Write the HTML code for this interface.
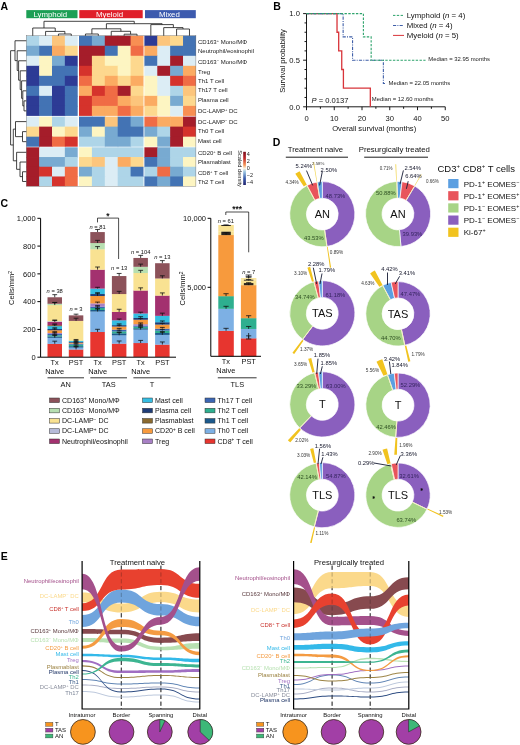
<!DOCTYPE html>
<html lang="en"><head><meta charset="utf-8"><title>Figure</title>
<style>
html,body{margin:0;padding:0;background:#fff;}
body{width:520px;height:745px;overflow:hidden;font-family:"Liberation Sans",sans-serif;}
svg{display:block;font-family:"Liberation Sans",sans-serif;}
</style></head><body>
<svg width="520" height="745" viewBox="0 0 520 745">
<rect width="520" height="745" fill="#fff"/>
<g id="panelA">
<text x="0.5" y="9.9" font-size="10.5" font-weight="bold" fill="#000">A</text>
<rect x="26.3" y="10.1" width="51.2" height="8.1" fill="#1d9f55"/>
<rect x="79.3" y="10.1" width="63.4" height="8.1" fill="#e01f2a"/>
<rect x="145" y="10.1" width="50.8" height="8.1" fill="#3c5aae"/>
<text x="50.3" y="16.8" font-size="7.85" fill="#fff" text-anchor="middle">Lymphoid</text>
<text x="109.5" y="16.8" font-size="7.85" fill="#fff" text-anchor="middle">Myeloid</text>
<text x="169.4" y="16.8" font-size="7.85" fill="#fff" text-anchor="middle">Mixed</text>
<rect x="26.3" y="35.75" width="13.45" height="10.62" fill="#aed5e8"/>
<rect x="39.15" y="35.75" width="13.45" height="10.62" fill="#dcedf5"/>
<rect x="52" y="35.75" width="13.45" height="10.62" fill="#fcc57c"/>
<rect x="64.85" y="35.75" width="12.85" height="10.62" fill="#dcedf5"/>
<rect x="79" y="35.75" width="13.5" height="10.62" fill="#4373b4"/>
<rect x="91.9" y="35.75" width="13.5" height="10.62" fill="#78aad1"/>
<rect x="104.8" y="35.75" width="13.5" height="10.62" fill="#a51d2a"/>
<rect x="117.7" y="35.75" width="13.5" height="10.62" fill="#a51d2a"/>
<rect x="130.6" y="35.75" width="12.9" height="10.62" fill="#f88f53"/>
<rect x="144.4" y="35.75" width="13.47" height="10.62" fill="#2d3b95"/>
<rect x="157.28" y="35.75" width="13.47" height="10.62" fill="#fcc57c"/>
<rect x="170.15" y="35.75" width="13.47" height="10.62" fill="#fdd88e"/>
<rect x="183.03" y="35.75" width="12.88" height="10.62" fill="#4373b4"/>
<rect x="26.3" y="45.77" width="13.45" height="10.62" fill="#78aad1"/>
<rect x="39.15" y="45.77" width="13.45" height="10.62" fill="#4373b4"/>
<rect x="52" y="45.77" width="13.45" height="10.62" fill="#fbab62"/>
<rect x="64.85" y="45.77" width="12.85" height="10.62" fill="#fdd88e"/>
<rect x="79" y="45.77" width="13.5" height="10.62" fill="#a51d2a"/>
<rect x="91.9" y="45.77" width="13.5" height="10.62" fill="#a51d2a"/>
<rect x="104.8" y="45.77" width="13.5" height="10.62" fill="#4373b4"/>
<rect x="117.7" y="45.77" width="13.5" height="10.62" fill="#fdf5c2"/>
<rect x="130.6" y="45.77" width="12.9" height="10.62" fill="#f06c45"/>
<rect x="144.4" y="45.77" width="13.47" height="10.62" fill="#fbab62"/>
<rect x="157.28" y="45.77" width="13.47" height="10.62" fill="#dcedf5"/>
<rect x="170.15" y="45.77" width="13.47" height="10.62" fill="#4373b4"/>
<rect x="183.03" y="45.77" width="12.88" height="10.62" fill="#4373b4"/>
<rect x="26.3" y="55.79" width="13.45" height="10.62" fill="#dcedf5"/>
<rect x="39.15" y="55.79" width="13.45" height="10.62" fill="#fdf5c2"/>
<rect x="52" y="55.79" width="13.45" height="10.62" fill="#78aad1"/>
<rect x="64.85" y="55.79" width="12.85" height="10.62" fill="#2d3b95"/>
<rect x="79" y="55.79" width="13.5" height="10.62" fill="#a51d2a"/>
<rect x="91.9" y="55.79" width="13.5" height="10.62" fill="#fdd88e"/>
<rect x="104.8" y="55.79" width="13.5" height="10.62" fill="#fdf5c2"/>
<rect x="117.7" y="55.79" width="13.5" height="10.62" fill="#fdf5c2"/>
<rect x="130.6" y="55.79" width="12.9" height="10.62" fill="#fdd88e"/>
<rect x="144.4" y="55.79" width="13.47" height="10.62" fill="#4373b4"/>
<rect x="157.28" y="55.79" width="13.47" height="10.62" fill="#dcedf5"/>
<rect x="170.15" y="55.79" width="13.47" height="10.62" fill="#a51d2a"/>
<rect x="183.03" y="55.79" width="12.88" height="10.62" fill="#dcedf5"/>
<rect x="26.3" y="65.81" width="13.45" height="10.62" fill="#2d3b95"/>
<rect x="39.15" y="65.81" width="13.45" height="10.62" fill="#fdf5c2"/>
<rect x="52" y="65.81" width="13.45" height="10.62" fill="#4373b4"/>
<rect x="64.85" y="65.81" width="12.85" height="10.62" fill="#4373b4"/>
<rect x="79" y="65.81" width="13.5" height="10.62" fill="#d5332c"/>
<rect x="91.9" y="65.81" width="13.5" height="10.62" fill="#fdd88e"/>
<rect x="104.8" y="65.81" width="13.5" height="10.62" fill="#fdd88e"/>
<rect x="117.7" y="65.81" width="13.5" height="10.62" fill="#fdf5c2"/>
<rect x="130.6" y="65.81" width="12.9" height="10.62" fill="#fdd88e"/>
<rect x="144.4" y="65.81" width="13.47" height="10.62" fill="#dcedf5"/>
<rect x="157.28" y="65.81" width="13.47" height="10.62" fill="#a51d2a"/>
<rect x="170.15" y="65.81" width="13.47" height="10.62" fill="#78aad1"/>
<rect x="183.03" y="65.81" width="12.88" height="10.62" fill="#fbab62"/>
<rect x="26.3" y="75.83" width="13.45" height="10.62" fill="#2d3b95"/>
<rect x="39.15" y="75.83" width="13.45" height="10.62" fill="#4373b4"/>
<rect x="52" y="75.83" width="13.45" height="10.62" fill="#4373b4"/>
<rect x="64.85" y="75.83" width="12.85" height="10.62" fill="#2d3b95"/>
<rect x="79" y="75.83" width="13.5" height="10.62" fill="#f06c45"/>
<rect x="91.9" y="75.83" width="13.5" height="10.62" fill="#fdd88e"/>
<rect x="104.8" y="75.83" width="13.5" height="10.62" fill="#fbab62"/>
<rect x="117.7" y="75.83" width="13.5" height="10.62" fill="#fdd88e"/>
<rect x="130.6" y="75.83" width="12.9" height="10.62" fill="#fbab62"/>
<rect x="144.4" y="75.83" width="13.47" height="10.62" fill="#fdf5c2"/>
<rect x="157.28" y="75.83" width="13.47" height="10.62" fill="#dcedf5"/>
<rect x="170.15" y="75.83" width="13.47" height="10.62" fill="#d5332c"/>
<rect x="183.03" y="75.83" width="12.88" height="10.62" fill="#f06c45"/>
<rect x="26.3" y="85.84" width="13.45" height="10.62" fill="#4373b4"/>
<rect x="39.15" y="85.84" width="13.45" height="10.62" fill="#dcedf5"/>
<rect x="52" y="85.84" width="13.45" height="10.62" fill="#2d3b95"/>
<rect x="64.85" y="85.84" width="12.85" height="10.62" fill="#4373b4"/>
<rect x="79" y="85.84" width="13.5" height="10.62" fill="#fbab62"/>
<rect x="91.9" y="85.84" width="13.5" height="10.62" fill="#d5332c"/>
<rect x="104.8" y="85.84" width="13.5" height="10.62" fill="#f06c45"/>
<rect x="117.7" y="85.84" width="13.5" height="10.62" fill="#a51d2a"/>
<rect x="130.6" y="85.84" width="12.9" height="10.62" fill="#fdd88e"/>
<rect x="144.4" y="85.84" width="13.47" height="10.62" fill="#fdf5c2"/>
<rect x="157.28" y="85.84" width="13.47" height="10.62" fill="#dcedf5"/>
<rect x="170.15" y="85.84" width="13.47" height="10.62" fill="#aed5e8"/>
<rect x="183.03" y="85.84" width="12.88" height="10.62" fill="#fcc57c"/>
<rect x="26.3" y="95.86" width="13.45" height="10.62" fill="#2d3b95"/>
<rect x="39.15" y="95.86" width="13.45" height="10.62" fill="#4373b4"/>
<rect x="52" y="95.86" width="13.45" height="10.62" fill="#2d3b95"/>
<rect x="64.85" y="95.86" width="12.85" height="10.62" fill="#4373b4"/>
<rect x="79" y="95.86" width="13.5" height="10.62" fill="#d5332c"/>
<rect x="91.9" y="95.86" width="13.5" height="10.62" fill="#f06c45"/>
<rect x="104.8" y="95.86" width="13.5" height="10.62" fill="#f06c45"/>
<rect x="117.7" y="95.86" width="13.5" height="10.62" fill="#fbab62"/>
<rect x="130.6" y="95.86" width="12.9" height="10.62" fill="#fcc57c"/>
<rect x="144.4" y="95.86" width="13.47" height="10.62" fill="#fbab62"/>
<rect x="157.28" y="95.86" width="13.47" height="10.62" fill="#fdf5c2"/>
<rect x="170.15" y="95.86" width="13.47" height="10.62" fill="#78aad1"/>
<rect x="183.03" y="95.86" width="12.88" height="10.62" fill="#fdd88e"/>
<rect x="26.3" y="105.88" width="13.45" height="10.02" fill="#2d3b95"/>
<rect x="39.15" y="105.88" width="13.45" height="10.02" fill="#4373b4"/>
<rect x="52" y="105.88" width="13.45" height="10.02" fill="#2d3b95"/>
<rect x="64.85" y="105.88" width="12.85" height="10.02" fill="#4373b4"/>
<rect x="79" y="105.88" width="13.5" height="10.02" fill="#d5332c"/>
<rect x="91.9" y="105.88" width="13.5" height="10.02" fill="#fbab62"/>
<rect x="104.8" y="105.88" width="13.5" height="10.02" fill="#fbab62"/>
<rect x="117.7" y="105.88" width="13.5" height="10.02" fill="#f06c45"/>
<rect x="130.6" y="105.88" width="12.9" height="10.02" fill="#fbab62"/>
<rect x="144.4" y="105.88" width="13.47" height="10.02" fill="#fdd88e"/>
<rect x="157.28" y="105.88" width="13.47" height="10.02" fill="#fdf5c2"/>
<rect x="170.15" y="105.88" width="13.47" height="10.02" fill="#dcedf5"/>
<rect x="183.03" y="105.88" width="12.88" height="10.02" fill="#f88f53"/>
<rect x="26.3" y="116.6" width="13.45" height="10.63" fill="#dcedf5"/>
<rect x="39.15" y="116.6" width="13.45" height="10.63" fill="#fdf5c2"/>
<rect x="52" y="116.6" width="13.45" height="10.63" fill="#aed5e8"/>
<rect x="64.85" y="116.6" width="12.85" height="10.63" fill="#dcedf5"/>
<rect x="79" y="116.6" width="13.5" height="10.63" fill="#4373b4"/>
<rect x="91.9" y="116.6" width="13.5" height="10.63" fill="#4373b4"/>
<rect x="104.8" y="116.6" width="13.5" height="10.63" fill="#fcc57c"/>
<rect x="117.7" y="116.6" width="13.5" height="10.63" fill="#4373b4"/>
<rect x="130.6" y="116.6" width="12.9" height="10.63" fill="#78aad1"/>
<rect x="144.4" y="116.6" width="13.47" height="10.63" fill="#f06c45"/>
<rect x="157.28" y="116.6" width="13.47" height="10.63" fill="#fbab62"/>
<rect x="170.15" y="116.6" width="13.47" height="10.63" fill="#fbab62"/>
<rect x="183.03" y="116.6" width="12.88" height="10.63" fill="#a51d2a"/>
<rect x="26.3" y="126.63" width="13.45" height="10.63" fill="#fdd88e"/>
<rect x="39.15" y="126.63" width="13.45" height="10.63" fill="#a51d2a"/>
<rect x="52" y="126.63" width="13.45" height="10.63" fill="#fdf5c2"/>
<rect x="64.85" y="126.63" width="12.85" height="10.63" fill="#fdd88e"/>
<rect x="79" y="126.63" width="13.5" height="10.63" fill="#78aad1"/>
<rect x="91.9" y="126.63" width="13.5" height="10.63" fill="#fdf5c2"/>
<rect x="104.8" y="126.63" width="13.5" height="10.63" fill="#78aad1"/>
<rect x="117.7" y="126.63" width="13.5" height="10.63" fill="#4373b4"/>
<rect x="130.6" y="126.63" width="12.9" height="10.63" fill="#4373b4"/>
<rect x="144.4" y="126.63" width="13.47" height="10.63" fill="#78aad1"/>
<rect x="157.28" y="126.63" width="13.47" height="10.63" fill="#aed5e8"/>
<rect x="170.15" y="126.63" width="13.47" height="10.63" fill="#a51d2a"/>
<rect x="183.03" y="126.63" width="12.88" height="10.63" fill="#d5332c"/>
<rect x="26.3" y="136.67" width="13.45" height="10.03" fill="#4373b4"/>
<rect x="39.15" y="136.67" width="13.45" height="10.03" fill="#a51d2a"/>
<rect x="52" y="136.67" width="13.45" height="10.03" fill="#f06c45"/>
<rect x="64.85" y="136.67" width="12.85" height="10.03" fill="#d5332c"/>
<rect x="79" y="136.67" width="13.5" height="10.03" fill="#aed5e8"/>
<rect x="91.9" y="136.67" width="13.5" height="10.03" fill="#aed5e8"/>
<rect x="104.8" y="136.67" width="13.5" height="10.03" fill="#78aad1"/>
<rect x="117.7" y="136.67" width="13.5" height="10.03" fill="#78aad1"/>
<rect x="130.6" y="136.67" width="12.9" height="10.03" fill="#aed5e8"/>
<rect x="144.4" y="136.67" width="13.47" height="10.03" fill="#fdf5c2"/>
<rect x="157.28" y="136.67" width="13.47" height="10.03" fill="#78aad1"/>
<rect x="170.15" y="136.67" width="13.47" height="10.03" fill="#a51d2a"/>
<rect x="183.03" y="136.67" width="12.88" height="10.03" fill="#fdf5c2"/>
<rect x="26.3" y="147.3" width="13.45" height="10.32" fill="#a51d2a"/>
<rect x="39.15" y="147.3" width="13.45" height="10.32" fill="#dcedf5"/>
<rect x="52" y="147.3" width="13.45" height="10.32" fill="#dcedf5"/>
<rect x="64.85" y="147.3" width="12.85" height="10.32" fill="#78aad1"/>
<rect x="79" y="147.3" width="13.5" height="10.32" fill="#fdf5c2"/>
<rect x="91.9" y="147.3" width="13.5" height="10.32" fill="#aed5e8"/>
<rect x="104.8" y="147.3" width="13.5" height="10.32" fill="#aed5e8"/>
<rect x="117.7" y="147.3" width="13.5" height="10.32" fill="#aed5e8"/>
<rect x="130.6" y="147.3" width="12.9" height="10.32" fill="#aed5e8"/>
<rect x="144.4" y="147.3" width="13.47" height="10.32" fill="#a51d2a"/>
<rect x="157.28" y="147.3" width="13.47" height="10.32" fill="#78aad1"/>
<rect x="170.15" y="147.3" width="13.47" height="10.32" fill="#aed5e8"/>
<rect x="183.03" y="147.3" width="12.88" height="10.32" fill="#aed5e8"/>
<rect x="26.3" y="157.03" width="13.45" height="10.32" fill="#a51d2a"/>
<rect x="39.15" y="157.03" width="13.45" height="10.32" fill="#78aad1"/>
<rect x="52" y="157.03" width="13.45" height="10.32" fill="#78aad1"/>
<rect x="64.85" y="157.03" width="12.85" height="10.32" fill="#aed5e8"/>
<rect x="79" y="157.03" width="13.5" height="10.32" fill="#fdd88e"/>
<rect x="91.9" y="157.03" width="13.5" height="10.32" fill="#fcc57c"/>
<rect x="104.8" y="157.03" width="13.5" height="10.32" fill="#dcedf5"/>
<rect x="117.7" y="157.03" width="13.5" height="10.32" fill="#fbab62"/>
<rect x="130.6" y="157.03" width="12.9" height="10.32" fill="#fdd88e"/>
<rect x="144.4" y="157.03" width="13.47" height="10.32" fill="#4373b4"/>
<rect x="157.28" y="157.03" width="13.47" height="10.32" fill="#78aad1"/>
<rect x="170.15" y="157.03" width="13.47" height="10.32" fill="#aed5e8"/>
<rect x="183.03" y="157.03" width="12.88" height="10.32" fill="#fdf5c2"/>
<rect x="26.3" y="166.75" width="13.45" height="10.32" fill="#a51d2a"/>
<rect x="39.15" y="166.75" width="13.45" height="10.32" fill="#d5332c"/>
<rect x="52" y="166.75" width="13.45" height="10.32" fill="#dcedf5"/>
<rect x="64.85" y="166.75" width="12.85" height="10.32" fill="#f06c45"/>
<rect x="79" y="166.75" width="13.5" height="10.32" fill="#78aad1"/>
<rect x="91.9" y="166.75" width="13.5" height="10.32" fill="#aed5e8"/>
<rect x="104.8" y="166.75" width="13.5" height="10.32" fill="#dcedf5"/>
<rect x="117.7" y="166.75" width="13.5" height="10.32" fill="#aed5e8"/>
<rect x="130.6" y="166.75" width="12.9" height="10.32" fill="#4373b4"/>
<rect x="144.4" y="166.75" width="13.47" height="10.32" fill="#aed5e8"/>
<rect x="157.28" y="166.75" width="13.47" height="10.32" fill="#f06c45"/>
<rect x="170.15" y="166.75" width="13.47" height="10.32" fill="#78aad1"/>
<rect x="183.03" y="166.75" width="12.88" height="10.32" fill="#aed5e8"/>
<rect x="26.3" y="176.47" width="13.45" height="9.72" fill="#a51d2a"/>
<rect x="39.15" y="176.47" width="13.45" height="9.72" fill="#aed5e8"/>
<rect x="52" y="176.47" width="13.45" height="9.72" fill="#d5332c"/>
<rect x="64.85" y="176.47" width="12.85" height="9.72" fill="#f06c45"/>
<rect x="79" y="176.47" width="13.5" height="9.72" fill="#fdf5c2"/>
<rect x="91.9" y="176.47" width="13.5" height="9.72" fill="#aed5e8"/>
<rect x="104.8" y="176.47" width="13.5" height="9.72" fill="#dcedf5"/>
<rect x="117.7" y="176.47" width="13.5" height="9.72" fill="#aed5e8"/>
<rect x="130.6" y="176.47" width="12.9" height="9.72" fill="#aed5e8"/>
<rect x="144.4" y="176.47" width="13.47" height="9.72" fill="#4373b4"/>
<rect x="157.28" y="176.47" width="13.47" height="9.72" fill="#78aad1"/>
<rect x="170.15" y="176.47" width="13.47" height="9.72" fill="#4373b4"/>
<rect x="183.03" y="176.47" width="12.88" height="9.72" fill="#fdf5c2"/>
<rect x="26.3" y="35.75" width="169.6" height="150.45" fill="none" stroke="#555" stroke-width="0.35"/>
<text x="198" y="43.65" font-size="6" fill="#222">CD163<tspan dy="-2" font-size="4">+</tspan><tspan dy="2"> Mono/MΦ</tspan></text>
<text x="198" y="52.87" font-size="6" fill="#222">Neutrophil/eosinophil</text>
<text x="198" y="63.99" font-size="6" fill="#222">CD163<tspan dy="-2" font-size="4">−</tspan><tspan dy="2"> Mono/MΦ</tspan></text>
<text x="198" y="73.81" font-size="6" fill="#222">Treg</text>
<text x="198" y="82.92" font-size="6" fill="#222">Th1 T cell</text>
<text x="198" y="92.24" font-size="6" fill="#222">Th17 T cell</text>
<text x="198" y="101.86" font-size="6" fill="#222">Plasma cell</text>
<text x="198" y="113.28" font-size="6" fill="#222">DC-LAMP<tspan dy="-2" font-size="4">+</tspan><tspan dy="2"> DC</tspan></text>
<text x="198" y="124.1" font-size="6" fill="#222">DC-LAMP<tspan dy="-2" font-size="4">−</tspan><tspan dy="2"> DC</tspan></text>
<text x="198" y="133.43" font-size="6" fill="#222">Th0 T cell</text>
<text x="198" y="143.07" font-size="6" fill="#222">Mast cell</text>
<text x="198" y="155.1" font-size="6" fill="#222">CD20<tspan dy="-2" font-size="4">+</tspan><tspan dy="2"> B cell</tspan></text>
<text x="198" y="163.72" font-size="6" fill="#222">Plasmablast</text>
<text x="198" y="175.35" font-size="6" fill="#222">CD8<tspan dy="-2" font-size="4">+</tspan><tspan dy="2"> T cell</tspan></text>
<text x="198" y="183.97" font-size="6" fill="#222">Th2 T cell</text>
<path d="M58.44 35.75L58.44 34M58.44 34L71.29 34M71.29 34L71.29 35.75M45.59 35.75L45.59 31.4M45.59 31.4L64.87 31.4M64.87 31.4L64.87 34M32.74 35.75L32.74 28M32.74 28L55.23 28M55.23 28L55.23 31.4M124.14 35.75L124.14 34.2M124.14 34.2L137.04 34.2M137.04 34.2L137.04 35.75M111.24 35.75L111.24 31.3M111.24 31.3L130.59 31.3M130.59 31.3L130.59 34.2M85.44 35.75L85.44 34M85.44 34L98.34 34M98.34 34L98.34 35.75M91.89 34L91.89 28.8M91.89 28.8L120.91 28.8M120.91 28.8L120.91 31.3M176.59 35.75L176.59 29M176.59 29L189.47 29M189.47 29L189.47 35.75M163.72 35.75L163.72 27.6M163.72 27.6L183.03 27.6M183.03 27.6L183.03 29M150.84 35.75L150.84 24.6M150.84 24.6L173.37 24.6M173.37 24.6L173.37 27.6M106.4 28.8L106.4 23.7M106.4 23.7L162.11 23.7M162.11 23.7L162.11 24.6M43.98 28L43.98 21.3M43.98 21.3L134.25 21.3M134.25 21.3L134.25 23.7M26.3 100.86L24 100.86M24 100.86L24 110.88M24 110.88L26.3 110.88M26.3 90.84L22.8 90.84M22.8 90.84L22.8 105.87M22.8 105.87L24 105.87M26.3 80.83L21.6 80.83M21.6 80.83L21.6 98.36M21.6 98.36L22.8 98.36M26.3 70.81L20.2 70.81M20.2 70.81L20.2 89.59M20.2 89.59L21.6 89.59M26.3 60.79L18.6 60.79M18.6 60.79L18.6 80.2M18.6 80.2L20.2 80.2M26.3 50.77L17.2 50.77M17.2 50.77L17.2 70.49M17.2 70.49L18.6 70.49M26.3 40.75L15 40.75M15 40.75L15 60.63M15 60.63L17.2 60.63M26.3 131.63L22.5 131.63M22.5 131.63L22.5 141.67M22.5 141.67L26.3 141.67M26.3 121.6L15.5 121.6M15.5 121.6L15.5 136.65M15.5 136.65L22.5 136.65M26.3 171.75L22.5 171.75M22.5 171.75L22.5 181.47M22.5 181.47L26.3 181.47M26.3 162.03L20 162.03M20 162.03L20 176.61M20 176.61L22.5 176.61M26.3 152.3L16.6 152.3M16.6 152.3L16.6 169.32M16.6 169.32L20 169.32M15.5 129.12L13.3 129.12M13.3 129.12L13.3 160.81M13.3 160.81L16.6 160.81M15 50.69L10.6 50.69M10.6 50.69L10.6 144.97M10.6 144.97L13.3 144.97" fill="none" stroke="#222" stroke-width="0.85"/>
<defs><linearGradient id="cb" x1="0" y1="0" x2="0" y2="1"><stop offset="0" stop-color="#7a1020"/><stop offset="0.2" stop-color="#c02a2c"/><stop offset="0.4" stop-color="#f59a5a"/><stop offset="0.5" stop-color="#fdf5e0"/><stop offset="0.6" stop-color="#9cc6e2"/><stop offset="0.8" stop-color="#3a5cab"/><stop offset="1" stop-color="#23246f"/></linearGradient></defs>
<rect x="243.2" y="151.8" width="2.7" height="33.2" fill="url(#cb)"/>
<text x="246.8" y="156" font-size="5.5" fill="#222">4</text>
<text x="246.8" y="163.3" font-size="5.5" fill="#222">2</text>
<text x="246.8" y="169.6" font-size="5.5" fill="#222">0</text>
<text x="246.8" y="177.3" font-size="5.5" fill="#222">−2</text>
<text x="246.8" y="183.7" font-size="5.5" fill="#222">−4</text>
<text transform="translate(237.5,150.2) rotate(90)" font-size="5.65" fill="#222">Scaled density</text>
</g>
<g id="panelB">
<text x="273.3" y="9.7" font-size="10.5" font-weight="bold" fill="#000">B</text>
<path d="M306.5 13.6L306.5 106.8M306.5 106.8L445.25 106.8M306.5 106.8L306.5 110.2M334.25 106.8L334.25 110.2M362 106.8L362 110.2M389.75 106.8L389.75 110.2M417.5 106.8L417.5 110.2M445.25 106.8L445.25 110.2M320.38 106.8L320.38 108.8M348.12 106.8L348.12 108.8M375.88 106.8L375.88 108.8M403.62 106.8L403.62 108.8M431.38 106.8L431.38 108.8M303.1 106.8L306.5 106.8M304.5 97.48L306.5 97.48M304.5 88.16L306.5 88.16M304.5 78.84L306.5 78.84M304.5 69.52L306.5 69.52M303.1 60.2L306.5 60.2M304.5 50.88L306.5 50.88M304.5 41.56L306.5 41.56M304.5 32.24L306.5 32.24M304.5 22.92L306.5 22.92M303.1 13.6L306.5 13.6" stroke="#000" stroke-width="0.9" fill="none"/>
<text x="306.5" y="120.6" font-size="7.6" text-anchor="middle" fill="#111">0</text>
<text x="334.25" y="120.6" font-size="7.6" text-anchor="middle" fill="#111">10</text>
<text x="362" y="120.6" font-size="7.6" text-anchor="middle" fill="#111">20</text>
<text x="389.75" y="120.6" font-size="7.6" text-anchor="middle" fill="#111">30</text>
<text x="417.5" y="120.6" font-size="7.6" text-anchor="middle" fill="#111">40</text>
<text x="445.25" y="120.6" font-size="7.6" text-anchor="middle" fill="#111">50</text>
<text x="299.9" y="16.3" font-size="7.6" text-anchor="end" fill="#111">1.0</text>
<text x="299.9" y="62.9" font-size="7.6" text-anchor="end" fill="#111">0.5</text>
<text x="299.9" y="109.5" font-size="7.6" text-anchor="end" fill="#111">0.0</text>
<text transform="translate(284.7,61) rotate(-90)" font-size="7.6" text-anchor="middle" fill="#111">Survival probability</text>
<text x="374.2" y="131.4" font-size="7.6" text-anchor="middle" fill="#111">Overall survival (months)</text>
<text x="311.5" y="103.4" font-size="7.6" fill="#111"><tspan font-style="italic">P</tspan> = 0.0137</text>
<path d="M306.5 13.6L337.02 13.6L337.02 32.24L338.69 32.24L338.69 50.88L341.74 50.88L341.74 69.52L343.41 69.52L343.41 88.16L370.32 88.16L370.32 106.8" stroke="#d8343a" stroke-width="1.3" fill="none"/>
<path d="M306.5 13.6L343.13 13.6L343.13 36.9L352.56 36.9L352.56 60.2L383.37 60.2L383.37 83.5L386.14 83.5L386.14 83.5" stroke="#3f5fa8" stroke-width="1.1" fill="none" stroke-dasharray="3.2 1.2 1 1.2"/>
<path d="M306.5 13.6L363.39 13.6L363.39 36.9L371.16 36.9L371.16 60.2L425.55 60.2L425.55 60.2" stroke="#2ca36b" stroke-width="1.1" fill="none" stroke-dasharray="2.4 1.4"/>
<path d="M393 15.4L404 15.4" stroke="#2ca36b" stroke-width="1" stroke-dasharray="2.4 1.4"/>
<text x="406.8" y="18.1" font-size="7.8" fill="#111">Lymphoid (<tspan font-style="italic">n</tspan> = 4)</text>
<path d="M393 25.5L404 25.5" stroke="#3f5fa8" stroke-width="1" stroke-dasharray="3.2 1.2 1 1.2"/>
<text x="406.8" y="28.2" font-size="7.8" fill="#111">Mixed (<tspan font-style="italic">n</tspan> = 4)</text>
<path d="M393 35.4L404 35.4" stroke="#d8343a" stroke-width="1" />
<text x="406.8" y="38.1" font-size="7.8" fill="#111">Myeloid (<tspan font-style="italic">n</tspan> = 5)</text>
<text x="428.3" y="61" font-size="5.9" fill="#222">Median = 32.95 months</text>
<text x="388.5" y="85.4" font-size="5.9" fill="#222">Median = 22.05 months</text>
<text x="371.8" y="100.8" font-size="5.9" fill="#222">Median = 12.60 months</text>
</g>
<g id="panelC">
<text x="0.5" y="207.1" font-size="10.5" font-weight="bold" fill="#000">C</text>
<rect x="47.5" y="343.78" width="14.5" height="13.14" fill="#e7352f"/>
<rect x="47.5" y="337.75" width="14.5" height="6.13" fill="#7db0e4"/>
<rect x="47.5" y="336.39" width="14.5" height="1.46" fill="#1c5a8d"/>
<rect x="47.5" y="335.22" width="14.5" height="1.27" fill="#2eaf8f"/>
<rect x="47.5" y="333.86" width="14.5" height="1.46" fill="#3b66b3"/>
<rect x="47.5" y="332.88" width="14.5" height="1.07" fill="#a880c5"/>
<rect x="47.5" y="330.16" width="14.5" height="2.82" fill="#f79a3d"/>
<rect x="47.5" y="328.99" width="14.5" height="1.27" fill="#1f3d78"/>
<rect x="47.5" y="326.07" width="14.5" height="3.02" fill="#35bde2"/>
<rect x="47.5" y="325.1" width="14.5" height="1.07" fill="#8a6a2f"/>
<rect x="47.5" y="321.79" width="14.5" height="3.41" fill="#a3316f"/>
<rect x="47.5" y="321.21" width="14.5" height="0.68" fill="#b6bbd9"/>
<rect x="47.5" y="305.05" width="14.5" height="16.25" fill="#f9e292"/>
<rect x="47.5" y="303.69" width="14.5" height="1.46" fill="#b7dfb1"/>
<rect x="47.5" y="297.27" width="14.5" height="6.52" fill="#8c525a"/>
<rect x="68.8" y="349.43" width="14.5" height="7.5" fill="#e7352f"/>
<rect x="68.8" y="347.48" width="14.5" height="2.05" fill="#7db0e4"/>
<rect x="68.8" y="346.12" width="14.5" height="1.46" fill="#1c5a8d"/>
<rect x="68.8" y="344.56" width="14.5" height="1.66" fill="#2eaf8f"/>
<rect x="68.8" y="343.59" width="14.5" height="1.07" fill="#3b66b3"/>
<rect x="68.8" y="342.62" width="14.5" height="1.07" fill="#f79a3d"/>
<rect x="68.8" y="341.84" width="14.5" height="0.88" fill="#1f3d78"/>
<rect x="68.8" y="340.67" width="14.5" height="1.27" fill="#35bde2"/>
<rect x="68.8" y="320.82" width="14.5" height="19.95" fill="#f9e292"/>
<rect x="68.8" y="315.37" width="14.5" height="5.55" fill="#8c525a"/>
<rect x="90.3" y="331.91" width="14.5" height="25.01" fill="#e7352f"/>
<rect x="90.3" y="311.48" width="14.5" height="20.54" fill="#7db0e4"/>
<rect x="90.3" y="309.92" width="14.5" height="1.66" fill="#1c5a8d"/>
<rect x="90.3" y="307.97" width="14.5" height="2.05" fill="#2eaf8f"/>
<rect x="90.3" y="306.61" width="14.5" height="1.46" fill="#3b66b3"/>
<rect x="90.3" y="303.3" width="14.5" height="3.41" fill="#a880c5"/>
<rect x="90.3" y="295.91" width="14.5" height="7.5" fill="#f79a3d"/>
<rect x="90.3" y="293.96" width="14.5" height="2.05" fill="#1f3d78"/>
<rect x="90.3" y="288.51" width="14.5" height="5.55" fill="#35bde2"/>
<rect x="90.3" y="269.63" width="14.5" height="18.98" fill="#a3316f"/>
<rect x="90.3" y="249.19" width="14.5" height="20.54" fill="#f9e292"/>
<rect x="90.3" y="242.97" width="14.5" height="6.33" fill="#b7dfb1"/>
<rect x="90.3" y="232.07" width="14.5" height="11" fill="#8c525a"/>
<rect x="111.9" y="343.59" width="14.5" height="13.33" fill="#e7352f"/>
<rect x="111.9" y="335.22" width="14.5" height="8.47" fill="#7db0e4"/>
<rect x="111.9" y="333.27" width="14.5" height="2.05" fill="#1c5a8d"/>
<rect x="111.9" y="331.33" width="14.5" height="2.05" fill="#2eaf8f"/>
<rect x="111.9" y="329.58" width="14.5" height="1.85" fill="#3b66b3"/>
<rect x="111.9" y="326.46" width="14.5" height="3.21" fill="#f79a3d"/>
<rect x="111.9" y="325.1" width="14.5" height="1.46" fill="#1f3d78"/>
<rect x="111.9" y="320.23" width="14.5" height="4.97" fill="#35bde2"/>
<rect x="111.9" y="311.86" width="14.5" height="8.47" fill="#a3316f"/>
<rect x="111.9" y="293.96" width="14.5" height="18.01" fill="#f9e292"/>
<rect x="111.9" y="276.05" width="14.5" height="18.01" fill="#8c525a"/>
<rect x="133.4" y="343.01" width="14.5" height="13.92" fill="#e7352f"/>
<rect x="133.4" y="329.58" width="14.5" height="13.53" fill="#7db0e4"/>
<rect x="133.4" y="328.21" width="14.5" height="1.46" fill="#1c5a8d"/>
<rect x="133.4" y="326.66" width="14.5" height="1.66" fill="#2eaf8f"/>
<rect x="133.4" y="325.49" width="14.5" height="1.27" fill="#3b66b3"/>
<rect x="133.4" y="324.13" width="14.5" height="1.46" fill="#a880c5"/>
<rect x="133.4" y="319.65" width="14.5" height="4.58" fill="#f79a3d"/>
<rect x="133.4" y="317.9" width="14.5" height="1.85" fill="#1f3d78"/>
<rect x="133.4" y="313.42" width="14.5" height="4.58" fill="#35bde2"/>
<rect x="133.4" y="290.46" width="14.5" height="23.07" fill="#a3316f"/>
<rect x="133.4" y="272.94" width="14.5" height="17.62" fill="#f9e292"/>
<rect x="133.4" y="266.71" width="14.5" height="6.33" fill="#b7dfb1"/>
<rect x="133.4" y="257.95" width="14.5" height="8.86" fill="#8c525a"/>
<rect x="155.1" y="344.56" width="14.5" height="12.36" fill="#e7352f"/>
<rect x="155.1" y="334.83" width="14.5" height="9.83" fill="#7db0e4"/>
<rect x="155.1" y="332.88" width="14.5" height="2.05" fill="#1c5a8d"/>
<rect x="155.1" y="330.55" width="14.5" height="2.44" fill="#2eaf8f"/>
<rect x="155.1" y="328.6" width="14.5" height="2.05" fill="#3b66b3"/>
<rect x="155.1" y="324.52" width="14.5" height="4.19" fill="#f79a3d"/>
<rect x="155.1" y="322.18" width="14.5" height="2.44" fill="#1f3d78"/>
<rect x="155.1" y="315.76" width="14.5" height="6.52" fill="#35bde2"/>
<rect x="155.1" y="295.52" width="14.5" height="20.34" fill="#a3316f"/>
<rect x="155.1" y="278.39" width="14.5" height="17.23" fill="#f9e292"/>
<rect x="155.1" y="263.21" width="14.5" height="15.28" fill="#8c525a"/>
<path d="M54.75 343.78L54.75 341.18M52.35 341.18L57.15 341.18M54.75 337.75L54.75 335.15M52.35 335.15L57.15 335.15M54.75 336.39L54.75 335.19M52.35 335.19L57.15 335.19M54.75 335.22L54.75 334.02M52.35 334.02L57.15 334.02M54.75 333.86L54.75 332.66M52.35 332.66L57.15 332.66M54.75 332.88L54.75 331.68M52.35 331.68L57.15 331.68M54.75 330.16L54.75 328.96M52.35 328.96L57.15 328.96M54.75 328.99L54.75 327.79M52.35 327.79L57.15 327.79M54.75 326.07L54.75 324.87M52.35 324.87L57.15 324.87M54.75 325.1L54.75 323.9M52.35 323.9L57.15 323.9M54.75 321.79L54.75 320.59M52.35 320.59L57.15 320.59M54.75 321.21L54.75 320.01M52.35 320.01L57.15 320.01M54.75 305.05L54.75 302.45M52.35 302.45L57.15 302.45M54.75 303.69L54.75 302.49M52.35 302.49L57.15 302.49M54.75 297.27L54.75 294.67M52.35 294.67L57.15 294.67M76.05 349.43L76.05 346.83M73.65 346.83L78.45 346.83M76.05 347.48L76.05 346.28M73.65 346.28L78.45 346.28M76.05 346.12L76.05 344.92M73.65 344.92L78.45 344.92M76.05 344.56L76.05 343.36M73.65 343.36L78.45 343.36M76.05 343.59L76.05 342.39M73.65 342.39L78.45 342.39M76.05 342.62L76.05 341.42M73.65 341.42L78.45 341.42M76.05 341.84L76.05 340.64M73.65 340.64L78.45 340.64M76.05 340.67L76.05 339.47M73.65 339.47L78.45 339.47M76.05 320.82L76.05 318.22M73.65 318.22L78.45 318.22M76.05 315.37L76.05 314.17M73.65 314.17L78.45 314.17M97.55 331.91L97.55 329.31M95.15 329.31L99.95 329.31M97.55 311.48L97.55 308.88M95.15 308.88L99.95 308.88M97.55 309.92L97.55 308.72M95.15 308.72L99.95 308.72M97.55 307.97L97.55 306.77M95.15 306.77L99.95 306.77M97.55 306.61L97.55 305.41M95.15 305.41L99.95 305.41M97.55 303.3L97.55 302.1M95.15 302.1L99.95 302.1M97.55 295.91L97.55 293.31M95.15 293.31L99.95 293.31M97.55 293.96L97.55 292.76M95.15 292.76L99.95 292.76M97.55 288.51L97.55 287.31M95.15 287.31L99.95 287.31M97.55 269.63L97.55 267.03M95.15 267.03L99.95 267.03M97.55 249.19L97.55 246.59M95.15 246.59L99.95 246.59M97.55 242.97L97.55 240.37M95.15 240.37L99.95 240.37M97.55 232.07L97.55 229.47M95.15 229.47L99.95 229.47M119.15 343.59L119.15 340.99M116.75 340.99L121.55 340.99M119.15 335.22L119.15 332.62M116.75 332.62L121.55 332.62M119.15 333.27L119.15 332.07M116.75 332.07L121.55 332.07M119.15 331.33L119.15 330.13M116.75 330.13L121.55 330.13M119.15 329.58L119.15 328.38M116.75 328.38L121.55 328.38M119.15 326.46L119.15 325.26M116.75 325.26L121.55 325.26M119.15 325.1L119.15 323.9M116.75 323.9L121.55 323.9M119.15 320.23L119.15 319.03M116.75 319.03L121.55 319.03M119.15 311.86L119.15 309.26M116.75 309.26L121.55 309.26M119.15 293.96L119.15 291.36M116.75 291.36L121.55 291.36M119.15 276.05L119.15 273.45M116.75 273.45L121.55 273.45M140.65 343.01L140.65 340.41M138.25 340.41L143.05 340.41M140.65 329.58L140.65 326.98M138.25 326.98L143.05 326.98M140.65 328.21L140.65 327.01M138.25 327.01L143.05 327.01M140.65 326.66L140.65 325.46M138.25 325.46L143.05 325.46M140.65 325.49L140.65 324.29M138.25 324.29L143.05 324.29M140.65 324.13L140.65 322.93M138.25 322.93L143.05 322.93M140.65 319.65L140.65 318.45M138.25 318.45L143.05 318.45M140.65 317.9L140.65 316.7M138.25 316.7L143.05 316.7M140.65 313.42L140.65 312.22M138.25 312.22L143.05 312.22M140.65 290.46L140.65 287.86M138.25 287.86L143.05 287.86M140.65 272.94L140.65 270.34M138.25 270.34L143.05 270.34M140.65 266.71L140.65 264.11M138.25 264.11L143.05 264.11M140.65 257.95L140.65 255.35M138.25 255.35L143.05 255.35M162.35 344.56L162.35 341.96M159.95 341.96L164.75 341.96M162.35 334.83L162.35 332.23M159.95 332.23L164.75 332.23M162.35 332.88L162.35 331.68M159.95 331.68L164.75 331.68M162.35 330.55L162.35 329.35M159.95 329.35L164.75 329.35M162.35 328.6L162.35 327.4M159.95 327.4L164.75 327.4M162.35 324.52L162.35 323.32M159.95 323.32L164.75 323.32M162.35 322.18L162.35 320.98M159.95 320.98L164.75 320.98M162.35 315.76L162.35 313.16M159.95 313.16L164.75 313.16M162.35 295.52L162.35 292.92M159.95 292.92L164.75 292.92M162.35 278.39L162.35 275.79M159.95 275.79L164.75 275.79M162.35 263.21L162.35 260.61M159.95 260.61L164.75 260.61" stroke="#111" stroke-width="0.8" fill="none"/>
<path d="M40.6 218.3L40.6 357.2M40.6 357.2L176 357.2M37.4 357.2L40.6 357.2M37.4 329.42L40.6 329.42M37.4 301.64L40.6 301.64M37.4 273.86L40.6 273.86M37.4 246.08L40.6 246.08M37.4 218.3L40.6 218.3" stroke="#000" stroke-width="1" fill="none"/>
<text x="35.6" y="359.9" font-size="7.5" text-anchor="end" fill="#111">0</text>
<text x="35.6" y="332.12" font-size="7.5" text-anchor="end" fill="#111">200</text>
<text x="35.6" y="304.34" font-size="7.5" text-anchor="end" fill="#111">400</text>
<text x="35.6" y="276.56" font-size="7.5" text-anchor="end" fill="#111">600</text>
<text x="35.6" y="248.78" font-size="7.5" text-anchor="end" fill="#111">800</text>
<text x="35.6" y="221" font-size="7.5" text-anchor="end" fill="#111">1,000</text>
<text transform="translate(14.2,288) rotate(-90)" font-size="7.5" text-anchor="middle" fill="#111">Cells/mm<tspan dy="-2.5" font-size="5">2</tspan></text>
<text x="54.7" y="293.4" font-size="5.8" text-anchor="middle" fill="#111"><tspan font-style="italic">n</tspan> = 38</text>
<text x="76" y="311" font-size="5.8" text-anchor="middle" fill="#111"><tspan font-style="italic">n</tspan> = 3</text>
<text x="97.6" y="228.6" font-size="5.8" text-anchor="middle" fill="#111"><tspan font-style="italic">n</tspan> = 81</text>
<text x="119.2" y="270.4" font-size="5.8" text-anchor="middle" fill="#111"><tspan font-style="italic">n</tspan> = 13</text>
<text x="140.7" y="254" font-size="5.8" text-anchor="middle" fill="#111"><tspan font-style="italic">n</tspan> = 104</text>
<text x="162.4" y="258.6" font-size="5.8" text-anchor="middle" fill="#111"><tspan font-style="italic">n</tspan> = 13</text>
<path d="M97.5 222.4L97.5 218.1L118.6 218.1L118.6 259" stroke="#000" stroke-width="0.7" fill="none"/>
<text x="108" y="218.7" font-size="8.4" font-weight="bold" text-anchor="middle" fill="#111">*</text>
<text x="54.7" y="365.1" font-size="7.4" text-anchor="middle" fill="#111">Tx</text>
<text x="76" y="365.1" font-size="7.4" text-anchor="middle" fill="#111">PST</text>
<text x="97.6" y="365.1" font-size="7.4" text-anchor="middle" fill="#111">Tx</text>
<text x="119.2" y="365.1" font-size="7.4" text-anchor="middle" fill="#111">PST</text>
<text x="140.7" y="365.1" font-size="7.4" text-anchor="middle" fill="#111">Tx</text>
<text x="162.4" y="365.1" font-size="7.4" text-anchor="middle" fill="#111">PST</text>
<text x="54.7" y="374.4" font-size="7.4" text-anchor="middle" fill="#111">Naive</text>
<text x="97.6" y="374.4" font-size="7.4" text-anchor="middle" fill="#111">Naive</text>
<text x="140.7" y="374.4" font-size="7.4" text-anchor="middle" fill="#111">Naive</text>
<path d="M47.5 377.8L84 377.8" stroke="#000" stroke-width="0.8"/>
<text x="65.75" y="387" font-size="7.4" text-anchor="middle" fill="#111">AN</text>
<path d="M90.3 377.8L127 377.8" stroke="#000" stroke-width="0.8"/>
<text x="108.65" y="387" font-size="7.4" text-anchor="middle" fill="#111">TAS</text>
<path d="M133.4 377.8L170.5 377.8" stroke="#000" stroke-width="0.8"/>
<text x="151.95" y="387" font-size="7.4" text-anchor="middle" fill="#111">T</text>
<rect x="218.3" y="330.74" width="15.5" height="25.6" fill="#e7352f"/>
<rect x="218.3" y="308.72" width="15.5" height="22.11" fill="#7db0e4"/>
<rect x="218.3" y="296.11" width="15.5" height="12.72" fill="#2eaf8f"/>
<rect x="218.3" y="235.01" width="15.5" height="61.2" fill="#f79a3d"/>
<rect x="218.3" y="231.41" width="15.5" height="3.7" fill="#f9e292"/>
<rect x="221.3" y="231.41" width="9.5" height="3.7" fill="#2a2420"/>
<rect x="218.3" y="225.91" width="15.5" height="5.6" fill="#f9e292"/>
<rect x="218.3" y="224.97" width="15.5" height="1.04" fill="#f9e292"/>
<rect x="221.3" y="224.97" width="9.5" height="1.04" fill="#2a2420"/>
<rect x="240.9" y="338.26" width="15.5" height="18.09" fill="#e7352f"/>
<rect x="240.9" y="328.86" width="15.5" height="9.5" fill="#7db0e4"/>
<rect x="240.9" y="318.12" width="15.5" height="10.84" fill="#2eaf8f"/>
<rect x="240.9" y="285.1" width="15.5" height="33.12" fill="#f79a3d"/>
<rect x="240.9" y="282.95" width="15.5" height="2.25" fill="#f9e292"/>
<rect x="243.9" y="282.95" width="9.5" height="2.25" fill="#2a2420"/>
<rect x="240.9" y="280.54" width="15.5" height="2.52" fill="#f9e292"/>
<rect x="240.9" y="279.46" width="15.5" height="1.17" fill="#f9e292"/>
<rect x="243.9" y="279.46" width="9.5" height="1.17" fill="#2a2420"/>
<rect x="240.9" y="278.12" width="15.5" height="1.44" fill="#f9e292"/>
<path d="M226.05 330.74L226.05 328.34M223.45 328.34L228.65 328.34M226.05 308.72L226.05 306.32M223.45 306.32L228.65 306.32M226.05 296.11L226.05 293.71M223.45 293.71L228.65 293.71M226.05 235.01L226.05 232.61M223.45 232.61L228.65 232.61M226.05 225.91L226.05 224.91M223.45 224.91L228.65 224.91M248.65 338.26L248.65 335.86M246.05 335.86L251.25 335.86M248.65 328.86L248.65 326.46M246.05 326.46L251.25 326.46M248.65 318.12L248.65 315.72M246.05 315.72L251.25 315.72M248.65 285.1L248.65 282.7M246.05 282.7L251.25 282.7M248.65 280.54L248.65 279.54M246.05 279.54L251.25 279.54M248.65 278.12L248.65 277.12M246.05 277.12L251.25 277.12M248.65 333L248.65 339M246 339L251.3 339M248.65 278.4L248.65 275M245.6 275L251.7 275M245.6 276.8L251.7 276.8" stroke="#111" stroke-width="0.8" fill="none"/>
<path d="M210.8 218.3L210.8 356.3M210.8 356.3L261 356.3M207.6 218.3L210.8 218.3M207.6 287.3L210.8 287.3" stroke="#000" stroke-width="1" fill="none"/>
<text x="206" y="221" font-size="7.5" text-anchor="end" fill="#111">10,000</text>
<text x="206" y="290" font-size="7.5" text-anchor="end" fill="#111">5,000</text>
<text transform="translate(185.2,288.5) rotate(-90)" font-size="7.5" text-anchor="middle" fill="#111">Cells/mm<tspan dy="-2.5" font-size="5">2</tspan></text>
<text x="225.8" y="222.6" font-size="5.8" text-anchor="middle" fill="#111"><tspan font-style="italic">n</tspan> = 61</text>
<text x="248.7" y="274" font-size="5.8" text-anchor="middle" fill="#111"><tspan font-style="italic">n</tspan> = 7</text>
<path d="M225.8 215L225.8 212L248.7 212L248.7 252.3" stroke="#000" stroke-width="0.7" fill="none"/>
<text x="237.2" y="212.2" font-size="8.4" font-weight="bold" text-anchor="middle" fill="#111">***</text>
<text x="225.8" y="364.4" font-size="7.4" text-anchor="middle" fill="#111">Tx</text>
<text x="248.7" y="364.4" font-size="7.4" text-anchor="middle" fill="#111">PST</text>
<text x="225.8" y="373.4" font-size="7.4" text-anchor="middle" fill="#111">Naive</text>
<path d="M217.8 377.8L256.6 377.8" stroke="#000" stroke-width="0.8"/>
<text x="237.4" y="387" font-size="7.4" text-anchor="middle" fill="#111">TLS</text>
<rect x="49.5" y="398" width="10" height="4.6" fill="#8c525a" stroke="#333" stroke-width="0.5"/>
<text x="62" y="402.7" font-size="7.05" fill="#111">CD163<tspan dy="-2.3" font-size="4.6">+</tspan><tspan dy="2.3"> </tspan>Mono/MΦ</text>
<rect x="49.5" y="408.25" width="10" height="4.6" fill="#b7dfb1" stroke="#333" stroke-width="0.5"/>
<text x="62" y="412.95" font-size="7.05" fill="#111">CD163<tspan dy="-2.3" font-size="4.6">−</tspan><tspan dy="2.3"> </tspan>Mono/MΦ</text>
<rect x="49.5" y="418.5" width="10" height="4.6" fill="#f9e292" stroke="#333" stroke-width="0.5"/>
<text x="62" y="423.2" font-size="7.05" fill="#111">DC-LAMP<tspan dy="-2.3" font-size="4.6">−</tspan><tspan dy="2.3"> </tspan>DC</text>
<rect x="49.5" y="428.75" width="10" height="4.6" fill="#b6bbd9" stroke="#333" stroke-width="0.5"/>
<text x="62" y="433.45" font-size="7.05" fill="#111">DC-LAMP<tspan dy="-2.3" font-size="4.6">+</tspan><tspan dy="2.3"> </tspan>DC</text>
<rect x="49.5" y="439" width="10" height="4.6" fill="#a3316f" stroke="#333" stroke-width="0.5"/>
<text x="62" y="443.7" font-size="7.05" fill="#111">Neutrophil/eosinophil</text>
<rect x="142.5" y="398" width="10" height="4.6" fill="#35bde2" stroke="#333" stroke-width="0.5"/>
<text x="155" y="402.7" font-size="7.05" fill="#111">Mast cell</text>
<rect x="142.5" y="408.25" width="10" height="4.6" fill="#1f3d78" stroke="#333" stroke-width="0.5"/>
<text x="155" y="412.95" font-size="7.05" fill="#111">Plasma cell</text>
<rect x="142.5" y="418.5" width="10" height="4.6" fill="#8a6a2f" stroke="#333" stroke-width="0.5"/>
<text x="155" y="423.2" font-size="7.05" fill="#111">Plasmablast</text>
<rect x="142.5" y="428.75" width="10" height="4.6" fill="#f79a3d" stroke="#333" stroke-width="0.5"/>
<text x="155" y="433.45" font-size="7.05" fill="#111">CD20<tspan dy="-2.3" font-size="4.6">+</tspan><tspan dy="2.3"> </tspan>B cell</text>
<rect x="142.5" y="439" width="10" height="4.6" fill="#a880c5" stroke="#333" stroke-width="0.5"/>
<text x="155" y="443.7" font-size="7.05" fill="#111">Treg</text>
<rect x="205" y="398" width="10" height="4.6" fill="#3b66b3" stroke="#333" stroke-width="0.5"/>
<text x="217.5" y="402.7" font-size="7.05" fill="#111">Th17 T cell</text>
<rect x="205" y="408.25" width="10" height="4.6" fill="#2eaf8f" stroke="#333" stroke-width="0.5"/>
<text x="217.5" y="412.95" font-size="7.05" fill="#111">Th2 T cell</text>
<rect x="205" y="418.5" width="10" height="4.6" fill="#1c5a8d" stroke="#333" stroke-width="0.5"/>
<text x="217.5" y="423.2" font-size="7.05" fill="#111">Th1 T cell</text>
<rect x="205" y="428.75" width="10" height="4.6" fill="#7db0e4" stroke="#333" stroke-width="0.5"/>
<text x="217.5" y="433.45" font-size="7.05" fill="#111">Th0 T cell</text>
<rect x="205" y="439" width="10" height="4.6" fill="#e7352f" stroke="#333" stroke-width="0.5"/>
<text x="217.5" y="443.7" font-size="7.05" fill="#111">CD8<tspan dy="-2.3" font-size="4.6">+</tspan><tspan dy="2.3"> </tspan>T cell</text>
</g>
<g id="panelD">
<text x="272.7" y="146.1" font-size="10.5" font-weight="bold" fill="#000">D</text>
<text x="287.8" y="151.6" font-size="7.7" fill="#111">Treatment naive</text>
<path d="M285.8 157.2L348 157.2" stroke="#000" stroke-width="0.9"/>
<text x="394.3" y="151.6" font-size="7.82" text-anchor="middle" fill="#111">Presurgically treated</text>
<path d="M364.2 157.2L428 157.2" stroke="#000" stroke-width="0.9"/>
<path d="M322.3 181.6A32.6 32.6 0 0 1 326.89 246.47L324.54 229.94A15.9 15.9 0 0 0 322.3 198.3Z" fill="#8a5fbe" stroke="#fff" stroke-width="0.7"/>
<path d="M326.89 246.47A32.6 32.6 0 0 1 307.06 185.38L314.87 200.14A15.9 15.9 0 0 0 324.54 229.94Z" fill="#a7d486" stroke="#fff" stroke-width="0.7"/>
<path d="M307.06 185.38A32.6 32.6 0 0 1 317.2 182L319.81 198.5A15.9 15.9 0 0 0 314.87 200.14Z" fill="#e8545b" stroke="#fff" stroke-width="0.7"/>
<path d="M317.2 182A32.6 32.6 0 0 1 322.3 181.6L322.3 198.3A15.9 15.9 0 0 0 319.81 198.5Z" fill="#5b9fe1" stroke="#fff" stroke-width="0.7"/>
<path d="M324.62 229.93L327.14 246.94" stroke="#fbeeb0" stroke-width="0.7"/>
<path d="M331.12 267.47A54 54 0 0 1 329.91 267.66L326.98 247.07A33.2 33.2 0 0 0 327.72 246.95Z" fill="#f1c31f"/>
<path d="M314.8 200.18L306.68 185.02" stroke="#fbeeb0" stroke-width="0.7"/>
<path d="M295.28 173.8A48.6 48.6 0 0 1 299.59 171.23L306.78 184.85A33.2 33.2 0 0 0 303.84 186.6Z" fill="#f1c31f"/>
<path d="M319.73 198.51L316.95 181.54" stroke="#fbeeb0" stroke-width="0.7"/>
<path d="M313.13 162.2A52.8 52.8 0 0 1 314.04 162.05L317.11 181.41A33.2 33.2 0 0 0 316.53 181.5Z" fill="#f3d95f"/>
<path d="M306.5 170.6L312.7 185.4" stroke="#141a33" stroke-width="0.9"/>
<path d="M322.3 171.5L319.6 185.4" stroke="#141a33" stroke-width="0.9"/>
<text x="322.3" y="218.1" font-size="11" text-anchor="middle" fill="#111">AN</text>
<text x="295.6" y="168.29" font-size="5.8" fill="#15172b">5.24%</text>
<text x="312" y="165.08" font-size="4.4" fill="#383838">2.58%</text>
<text x="320.6" y="171.69" font-size="5.8" fill="#15172b">2.50%</text>
<text x="285.4" y="183.69" font-size="4.7" fill="#383838">4.34%</text>
<text x="325.6" y="197.69" font-size="5.8" fill="#35245f">48.73%</text>
<text x="304" y="239.99" font-size="5.8" fill="#2d4f22">43.53%</text>
<text x="329.8" y="253.69" font-size="4.7" fill="#383838">0.89%</text>
<path d="M396.86 181.42A32.6 32.6 0 0 1 402.05 181.65L399.98 198.22A15.9 15.9 0 0 0 397.45 198.11Z" fill="#5b9fe1" stroke="#fff" stroke-width="0.7"/>
<path d="M402.05 181.65A32.6 32.6 0 0 1 414.81 186.07L406.2 200.38A15.9 15.9 0 0 0 399.98 198.22Z" fill="#e8545b" stroke="#fff" stroke-width="0.7"/>
<path d="M414.81 186.07A32.6 32.6 0 0 1 400.96 246.47L399.44 229.83A15.9 15.9 0 0 0 406.2 200.38Z" fill="#8a5fbe" stroke="#fff" stroke-width="0.7"/>
<path d="M400.96 246.47A32.6 32.6 0 1 1 396.84 181.42L397.44 198.11A15.9 15.9 0 1 0 399.44 229.83Z" fill="#a7d486" stroke="#fff" stroke-width="0.7"/>
<path d="M406.13 200.34L414.92 185.55" stroke="#fbeeb0" stroke-width="0.7"/>
<path d="M421.03 174.18A46 46 0 0 1 421.72 174.59L415.12 185.56A33.2 33.2 0 0 0 414.62 185.26Z" fill="#f3d95f"/>
<path d="M397.35 198.11L396.65 180.93" stroke="#fbeeb0" stroke-width="0.7"/>
<path d="M395.27 164.27A49.8 49.8 0 0 1 396.23 164.23L396.82 180.82A33.2 33.2 0 0 0 396.18 180.85Z" fill="#f3d95f"/>
<path d="M403.4 170.4L400 184.2" stroke="#141a33" stroke-width="0.9"/>
<path d="M408.2 181.2L406.4 188.8" stroke="#141a33" stroke-width="0.9"/>
<text x="398" y="217.9" font-size="11" text-anchor="middle" fill="#111">AN</text>
<text x="379.8" y="170.42" font-size="4.5" fill="#383838">0.71%</text>
<text x="404.4" y="170.29" font-size="5.8" fill="#15172b">2.54%</text>
<text x="405.2" y="178.09" font-size="5.8" fill="#15172b">6.64%</text>
<text x="426" y="183.42" font-size="4.5" fill="#383838">0.66%</text>
<text x="376" y="194.89" font-size="5.8" fill="#2d4f22">50.88%</text>
<text x="402.6" y="235.59" font-size="5.8" fill="#35245f">39.93%</text>
<path d="M322.3 280.7A32.6 32.6 0 1 1 302.64 339.31L312.71 325.98A15.9 15.9 0 1 0 322.3 297.4Z" fill="#8a5fbe" stroke="#fff" stroke-width="0.7"/>
<path d="M302.64 339.31A32.6 32.6 0 0 1 314.03 281.77L318.27 297.92A15.9 15.9 0 0 0 312.71 325.98Z" fill="#a7d486" stroke="#fff" stroke-width="0.7"/>
<path d="M314.03 281.77A32.6 32.6 0 0 1 318.62 280.91L320.51 297.5A15.9 15.9 0 0 0 318.27 297.92Z" fill="#e8545b" stroke="#fff" stroke-width="0.7"/>
<path d="M318.62 280.91A32.6 32.6 0 0 1 322.28 280.7L322.29 297.4A15.9 15.9 0 0 0 320.51 297.5Z" fill="#5b9fe1" stroke="#fff" stroke-width="0.7"/>
<path d="M312.78 326.03L302.48 339.81" stroke="#fbeeb0" stroke-width="0.7"/>
<path d="M294.23 354.07A49.5 49.5 0 0 1 292.45 352.79L302.28 339.79A33.2 33.2 0 0 0 303.47 340.64Z" fill="#f1c31f"/>
<path d="M318.19 297.94L313.74 281.33" stroke="#fbeeb0" stroke-width="0.7"/>
<path d="M307.41 267.67A48 48 0 0 1 310.13 266.87L313.88 281.18A33.2 33.2 0 0 0 312 281.74Z" fill="#f1c31f"/>
<path d="M313.3 267.7L316.7 284" stroke="#141a33" stroke-width="0.9"/>
<path d="M322 273.5L320 284" stroke="#141a33" stroke-width="0.9"/>
<text x="322.3" y="317.2" font-size="11" text-anchor="middle" fill="#111">TAS</text>
<text x="308" y="265.59" font-size="5.8" fill="#15172b">2.28%</text>
<text x="318.6" y="272.09" font-size="5.8" fill="#15172b">1.79%</text>
<text x="294" y="275.49" font-size="4.7" fill="#383838">3.10%</text>
<text x="295" y="298.59" font-size="5.8" fill="#2d4f22">34.74%</text>
<text x="325.6" y="297.09" font-size="5.8" fill="#35245f">61.18%</text>
<text x="300" y="351.09" font-size="4.7" fill="#383838">1.37%</text>
<path d="M398 281.6A32.2 32.2 0 0 1 404.73 345.29L401.32 329.35A15.9 15.9 0 0 0 398 297.9Z" fill="#8a5fbe" stroke="#fff" stroke-width="0.7"/>
<path d="M404.73 345.29A32.2 32.2 0 0 1 382.79 285.42L390.49 299.79A15.9 15.9 0 0 0 401.32 329.35Z" fill="#a7d486" stroke="#fff" stroke-width="0.7"/>
<path d="M382.79 285.42A32.2 32.2 0 0 1 391.15 282.34L394.62 298.26A15.9 15.9 0 0 0 390.49 299.79Z" fill="#5b9fe1" stroke="#fff" stroke-width="0.7"/>
<path d="M391.15 282.34A32.2 32.2 0 0 1 398 281.6L398 297.9A15.9 15.9 0 0 0 394.62 298.26Z" fill="#e8545b" stroke="#fff" stroke-width="0.7"/>
<path d="M401.4 329.33L405 345.74" stroke="#fbeeb0" stroke-width="0.7"/>
<path d="M410.36 361.21A49 49 0 0 1 408.24 361.72L404.85 345.88A32.8 32.8 0 0 0 406.28 345.54Z" fill="#f1c31f"/>
<path d="M390.42 299.83L382.4 285.06" stroke="#fbeeb0" stroke-width="0.7"/>
<path d="M370.15 273.48A49 49 0 0 1 374.85 270.61L382.51 284.89A32.8 32.8 0 0 0 379.36 286.81Z" fill="#f1c31f"/>
<path d="M387.5 272.5L387.5 285" stroke="#141a33" stroke-width="0.9"/>
<path d="M399.6 276.3L395.2 284" stroke="#141a33" stroke-width="0.9"/>
<text x="398" y="317.7" font-size="11" text-anchor="middle" fill="#111">TAS</text>
<text x="381.2" y="271.29" font-size="5.8" fill="#15172b">4.42%</text>
<text x="398.7" y="275.09" font-size="5.8" fill="#15172b">3.41%</text>
<text x="361.2" y="285.19" font-size="4.7" fill="#383838">4.63%</text>
<text x="400.6" y="295.79" font-size="5.8" fill="#35245f">47.47%</text>
<text x="381" y="339.59" font-size="5.8" fill="#2d4f22">44.70%</text>
<text x="411.4" y="355.89" font-size="4.7" fill="#383838">1.79%</text>
<path d="M322.3 371.8A32.6 32.6 0 1 1 299.69 427.88L311.27 415.85A15.9 15.9 0 1 0 322.3 388.5Z" fill="#8a5fbe" stroke="#fff" stroke-width="0.7"/>
<path d="M299.69 427.88A32.6 32.6 0 0 1 314.77 372.68L318.63 388.93A15.9 15.9 0 0 0 311.27 415.85Z" fill="#a7d486" stroke="#fff" stroke-width="0.7"/>
<path d="M314.77 372.68A32.6 32.6 0 0 1 318.5 372.02L320.45 388.61A15.9 15.9 0 0 0 318.63 388.93Z" fill="#e8545b" stroke="#fff" stroke-width="0.7"/>
<path d="M318.5 372.02A32.6 32.6 0 0 1 322.28 371.8L322.29 388.5A15.9 15.9 0 0 0 320.45 388.61Z" fill="#5b9fe1" stroke="#fff" stroke-width="0.7"/>
<path d="M311.33 415.91L299.47 428.36" stroke="#fbeeb0" stroke-width="0.7"/>
<path d="M290.37 442.35A49.6 49.6 0 0 1 287.89 440.13L299.27 428.31A33.2 33.2 0 0 0 300.93 429.8Z" fill="#f1c31f"/>
<path d="M318.55 388.95L314.49 372.24" stroke="#fbeeb0" stroke-width="0.7"/>
<path d="M308.19 358.73A47.8 47.8 0 0 1 311.26 357.89L314.63 372.1A33.2 33.2 0 0 0 312.5 372.68Z" fill="#f1c31f"/>
<path d="M318 358.7L316.7 374" stroke="#141a33" stroke-width="0.9"/>
<path d="M322.3 366.3L320.4 374" stroke="#141a33" stroke-width="0.9"/>
<text x="322.3" y="408.3" font-size="11" text-anchor="middle" fill="#111">T</text>
<text x="313.8" y="357.49" font-size="5.8" fill="#15172b">1.85%</text>
<text x="320.6" y="364.59" font-size="5.8" fill="#15172b">1.85%</text>
<text x="294" y="366.09" font-size="4.7" fill="#383838">3.65%</text>
<text x="296.6" y="388.29" font-size="5.8" fill="#2d4f22">33.29%</text>
<text x="326" y="387.69" font-size="5.8" fill="#35245f">63.00%</text>
<text x="295.2" y="442.09" font-size="4.7" fill="#383838">2.02%</text>
<path d="M398 373A32.2 32.2 0 1 1 395.57 437.31L396.8 421.05A15.9 15.9 0 1 0 398 389.3Z" fill="#8a5fbe" stroke="#fff" stroke-width="0.7"/>
<path d="M395.57 437.31A32.2 32.2 0 0 1 387.57 374.74L392.85 390.16A15.9 15.9 0 0 0 396.8 421.05Z" fill="#a7d486" stroke="#fff" stroke-width="0.7"/>
<path d="M387.57 374.74A32.2 32.2 0 0 1 394.31 373.21L396.18 389.4A15.9 15.9 0 0 0 392.85 390.16Z" fill="#5b9fe1" stroke="#fff" stroke-width="0.7"/>
<path d="M394.31 373.21A32.2 32.2 0 0 1 398.02 373L398.01 389.3A15.9 15.9 0 0 0 396.18 389.4Z" fill="#e8545b" stroke="#fff" stroke-width="0.7"/>
<path d="M396.89 421.06L395.71 437.82" stroke="#fbeeb0" stroke-width="0.7"/>
<path d="M396.92 454.79A49.6 49.6 0 0 1 394.26 454.66L395.53 437.91A32.8 32.8 0 0 0 397.28 437.99Z" fill="#f1c31f"/>
<path d="M392.77 390.18L387.25 374.32" stroke="#fbeeb0" stroke-width="0.7"/>
<path d="M376.5 361.72A48.5 48.5 0 0 1 382.29 359.31L387.38 374.17A32.8 32.8 0 0 0 383.46 375.8Z" fill="#f1c31f"/>
<path d="M389.4 361.5L390.8 374" stroke="#141a33" stroke-width="0.9"/>
<text x="398" y="409.1" font-size="11" text-anchor="middle" fill="#111">T</text>
<text x="383.8" y="360.79" font-size="5.8" fill="#15172b">3.42%</text>
<text x="391.4" y="367.09" font-size="5.8" fill="#15172b">1.84%</text>
<text x="365.8" y="372.49" font-size="4.7" fill="#383838">5.56%</text>
<text x="400.6" y="386.69" font-size="5.8" fill="#35245f">52.29%</text>
<text x="376.2" y="429.09" font-size="5.8" fill="#2d4f22">42.46%</text>
<text x="399.2" y="446.89" font-size="4.7" fill="#383838">1.96%</text>
<path d="M322.3 462.6A32.6 32.6 0 1 1 314.19 526.78L318.35 510.6A15.9 15.9 0 1 0 322.3 479.3Z" fill="#8a5fbe" stroke="#fff" stroke-width="0.7"/>
<path d="M314.19 526.78A32.6 32.6 0 0 1 316.21 463.17L319.33 479.58A15.9 15.9 0 0 0 318.35 510.6Z" fill="#a7d486" stroke="#fff" stroke-width="0.7"/>
<path d="M316.21 463.17A32.6 32.6 0 0 1 319.37 462.73L320.87 479.36A15.9 15.9 0 0 0 319.33 479.58Z" fill="#e8545b" stroke="#fff" stroke-width="0.7"/>
<path d="M319.37 462.73A32.6 32.6 0 0 1 322.3 462.6L322.3 479.3A15.9 15.9 0 0 0 320.87 479.36Z" fill="#5b9fe1" stroke="#fff" stroke-width="0.7"/>
<path d="M318.43 510.62L314.24 527.3" stroke="#fbeeb0" stroke-width="0.7"/>
<path d="M311.64 543.03A49 49 0 0 1 310.11 542.66L314.04 527.36A33.2 33.2 0 0 0 315.08 527.6Z" fill="#f1c31f"/>
<path d="M319.25 479.6L315.95 462.72" stroke="#fbeeb0" stroke-width="0.7"/>
<path d="M310.13 448.98A47.8 47.8 0 0 1 313.37 448.24L316.1 462.58A33.2 33.2 0 0 0 313.85 463.09Z" fill="#f1c31f"/>
<path d="M319.6 448.7L318 464" stroke="#141a33" stroke-width="0.9"/>
<path d="M322.9 457.3L321 464" stroke="#141a33" stroke-width="0.9"/>
<text x="322.3" y="499.1" font-size="11" text-anchor="middle" fill="#111">TLS</text>
<text x="314.7" y="447.89" font-size="5.8" fill="#15172b">1.56%</text>
<text x="321.2" y="455.59" font-size="5.8" fill="#15172b">1.43%</text>
<text x="297" y="456.69" font-size="4.7" fill="#383838">3.03%</text>
<text x="297.2" y="479.09" font-size="5.8" fill="#2d4f22">42.14%</text>
<text x="326" y="478.29" font-size="5.8" fill="#35245f">54.87%</text>
<text x="315.4" y="535.49" font-size="4.7" fill="#383838">1.11%</text>
<path d="M398 463A32.2 32.2 0 0 1 426.96 509.28L412.3 502.15A15.9 15.9 0 0 0 398 479.3Z" fill="#8a5fbe" stroke="#fff" stroke-width="0.7"/>
<path d="M426.96 509.28A32.2 32.2 0 1 1 390.68 463.84L394.39 479.72A15.9 15.9 0 1 0 412.3 502.15Z" fill="#a7d486" stroke="#fff" stroke-width="0.7"/>
<path d="M390.68 463.84A32.2 32.2 0 0 1 391.25 463.71L394.67 479.65A15.9 15.9 0 0 0 394.39 479.72Z" fill="#5b9fe1" stroke="#fff" stroke-width="0.7"/>
<path d="M391.25 463.71A32.2 32.2 0 0 1 398 463L398 479.3A15.9 15.9 0 0 0 394.67 479.65Z" fill="#e8545b" stroke="#fff" stroke-width="0.7"/>
<path d="M412.34 502.08L427.48 509.34" stroke="#fbeeb0" stroke-width="0.7"/>
<path d="M443.53 515.87A50 50 0 0 1 442.97 517.06L427.5 509.54A32.8 32.8 0 0 0 427.87 508.76Z" fill="#f1c31f"/>
<path d="M394.3 479.74L390.4 463.4" stroke="#fbeeb0" stroke-width="0.7"/>
<path d="M382.51 449.77A48 48 0 0 1 387.09 448.46L390.54 463.26A32.8 32.8 0 0 0 387.41 464.16Z" fill="#f1c31f"/>
<path d="M374 463L391.3 466" stroke="#141a33" stroke-width="0.9"/>
<path d="M400.4 455.4L396.2 465" stroke="#141a33" stroke-width="0.9"/>
<text x="398" y="499.1" font-size="11" text-anchor="middle" fill="#111">TLS</text>
<text x="400.6" y="455.89" font-size="5.8" fill="#15172b">3.36%</text>
<text x="368.4" y="455.49" font-size="4.7" fill="#383838">2.90%</text>
<text x="358" y="464.79" font-size="5.8" fill="#15172b">0.29%</text>
<text x="399.2" y="477.69" font-size="5.8" fill="#35245f">32.61%</text>
<text x="396.4" y="522.49" font-size="5.8" fill="#2d4f22">63.74%</text>
<text x="439" y="514.39" font-size="4.7" fill="#383838">1.53%</text>
<text x="419.6" y="490.93" font-size="3.7" fill="#111">✱</text>
<text x="372.2" y="498.53" font-size="3.7" fill="#111">✱</text>
<text x="437.5" y="171.6" font-size="9.5" fill="#111">CD3<tspan dy="-3.2" font-size="6">+</tspan><tspan dy="3.2"> CD8</tspan><tspan dy="-3.2" font-size="6">+</tspan><tspan dy="3.2"> T cells</tspan></text>
<rect x="448.2" y="179" width="10.3" height="9.2" fill="#5b9fe1"/>
<text x="463.7" y="186.5" font-size="8" fill="#111">PD-1<tspan dy="-2.8" font-size="5.4">+</tspan><tspan dy="2.8"> EOMES</tspan><tspan dy="-2.8" font-size="5.4">−</tspan></text>
<rect x="448.2" y="191.17" width="10.3" height="9.2" fill="#e8545b"/>
<text x="463.7" y="198.67" font-size="8" fill="#111">PD-1<tspan dy="-2.8" font-size="5.4">+</tspan><tspan dy="2.8"> EOMES</tspan><tspan dy="-2.8" font-size="5.4">+</tspan></text>
<rect x="448.2" y="203.34" width="10.3" height="9.2" fill="#a7d486"/>
<text x="463.7" y="210.84" font-size="8" fill="#111">PD-1<tspan dy="-2.8" font-size="5.4">−</tspan><tspan dy="2.8"> EOMES</tspan><tspan dy="-2.8" font-size="5.4">+</tspan></text>
<rect x="448.2" y="215.51" width="10.3" height="9.2" fill="#8a5fbe"/>
<text x="463.7" y="223.01" font-size="8" fill="#111">PD-1<tspan dy="-2.8" font-size="5.4">−</tspan><tspan dy="2.8"> EOMES</tspan><tspan dy="-2.8" font-size="5.4">−</tspan></text>
<rect x="448.2" y="227.68" width="10.3" height="9.2" fill="#f1c31f"/>
<text x="463.7" y="235.18" font-size="8" fill="#111">Ki-67<tspan dy="-2.8" font-size="5.4">+</tspan></text>
</g>
<g id="panelE">
<text x="0.8" y="560.2" font-size="10.5" font-weight="bold" fill="#000">E</text>
<path d="M121.3 565.6L121.3 709M160.9 565.6L160.9 709" stroke="#000" stroke-width="0.8" fill="none" stroke-dasharray="4.2 2.6"/>
<path d="M82.1 691.05C103.66 691.05 99.74 696.55 121.3 696.55C143.08 696.55 139.12 694.55 160.9 694.55C182.3 694.55 178.41 701.55 199.8 701.55L199.8 702.45C178.41 702.45 182.3 695.45 160.9 695.45C139.12 695.45 143.08 697.45 121.3 697.45C99.74 697.45 103.66 691.95 82.1 691.95Z" fill="#bcc8dc"/>
<path d="M82.1 684.55C103.66 684.55 99.74 688.05 121.3 688.05C143.08 688.05 139.12 686.55 160.9 686.55C182.3 686.55 178.41 691.55 199.8 691.55L199.8 692.45C178.41 692.45 182.3 687.45 160.9 687.45C139.12 687.45 143.08 688.95 121.3 688.95C99.74 688.95 103.66 685.45 82.1 685.45Z" fill="#a9aec6"/>
<path d="M82.1 679.05C103.66 679.05 99.74 683.55 121.3 683.55C143.08 683.55 139.12 682.55 160.9 682.55C182.3 682.55 178.41 687.55 199.8 687.55L199.8 688.45C178.41 688.45 182.3 683.45 160.9 683.45C139.12 683.45 143.08 684.45 121.3 684.45C99.74 684.45 103.66 679.95 82.1 679.95Z" fill="#5f84b4"/>
<path d="M82.1 670C103.66 670 99.74 691.5 121.3 691.5C143.08 691.5 139.12 688.5 160.9 688.5C182.3 688.5 178.41 698.5 199.8 698.5L199.8 699.5C178.41 699.5 182.3 689.5 160.9 689.5C139.12 689.5 143.08 692.5 121.3 692.5C99.74 692.5 103.66 671 82.1 671Z" fill="#2b4a80"/>
<path d="M82.1 665.2C103.66 665.2 99.74 677.1 121.3 677.1C143.08 677.1 139.12 675.1 160.9 675.1C182.3 675.1 178.41 677.1 199.8 677.1L199.8 678.1C178.41 678.1 182.3 676.1 160.9 676.1C139.12 676.1 143.08 678.1 121.3 678.1C99.74 678.1 103.66 666.4 82.1 666.4Z" fill="#9b8242"/>
<path d="M82.1 592.5C103.66 592.5 99.74 603.5 121.3 603.5C143.08 603.5 139.12 591.7 160.9 591.7C182.3 591.7 178.41 599.5 199.8 599.5L199.8 612.5C178.41 612.5 182.3 602.3 160.9 602.3C139.12 602.3 143.08 612.5 121.3 612.5C99.74 612.5 103.66 602.5 82.1 602.5Z" fill="#fbd98b"/>
<path d="M82.1 615C103.66 615 99.74 589.5 121.3 589.5C143.08 589.5 139.12 604.05 160.9 604.05C182.3 604.05 178.41 616.85 199.8 616.85L199.8 626.35C178.41 626.35 182.3 615.55 160.9 615.55C139.12 615.55 143.08 602.5 121.3 602.5C99.74 602.5 103.66 627 82.1 627Z" fill="#6fa4dd"/>
<path d="M82.1 603.3C103.66 603.3 99.74 569.5 121.3 569.5C143.08 569.5 139.12 569 160.9 569C182.3 569 178.41 583.8 199.8 583.8L199.8 597.8C178.41 597.8 182.3 585 160.9 585C139.12 585 143.08 589.5 121.3 589.5C99.74 589.5 103.66 611.1 82.1 611.1Z" fill="#e8412f"/>
<path d="M82.1 638C103.66 638 99.74 638.55 121.3 638.55C143.08 638.55 139.12 646.75 160.9 646.75C182.3 646.75 178.41 643 199.8 643L199.8 648.8C178.41 648.8 182.3 650.25 160.9 650.25C139.12 650.25 143.08 642.85 121.3 642.85C99.74 642.85 103.66 642 82.1 642Z" fill="#b8e1b2"/>
<path d="M82.1 629C103.66 629 99.74 629.7 121.3 629.7C143.08 629.7 139.12 637.7 160.9 637.7C182.3 637.7 178.41 633.3 199.8 633.3L199.8 641.1C178.41 641.1 182.3 642.9 160.9 642.9C139.12 642.9 143.08 634.3 121.3 634.3C99.74 634.3 103.66 633.8 82.1 633.8Z" fill="#874a4f"/>
<path d="M82.1 645.8C103.66 645.8 99.74 619 121.3 619C143.08 619 139.12 630.7 160.9 630.7C182.3 630.7 178.41 651.65 199.8 651.65L199.8 655.15C178.41 655.15 182.3 635.3 160.9 635.3C139.12 635.3 143.08 627 121.3 627C99.74 627 103.66 648.8 82.1 648.8Z" fill="#f49b42"/>
<path d="M82.1 573.85C103.66 573.85 99.74 645.8 121.3 645.8C143.08 645.8 139.12 616.9 160.9 616.9C182.3 616.9 178.41 567.35 199.8 567.35L199.8 580.85C178.41 580.85 182.3 624.7 160.9 624.7C139.12 624.7 143.08 651.6 121.3 651.6C99.74 651.6 103.66 589.15 82.1 589.15Z" fill="#a4508b"/>
<path d="M82.1 653.75C103.66 653.75 99.74 654.75 121.3 654.75C143.08 654.75 139.12 657.55 160.9 657.55C182.3 657.55 178.41 658.85 199.8 658.85L199.8 662.35C178.41 662.35 182.3 660.05 160.9 660.05C139.12 660.05 143.08 657.25 121.3 657.25C99.74 657.25 103.66 656.25 82.1 656.25Z" fill="#33b9e9"/>
<path d="M82.1 659.9C103.66 659.9 99.74 670.55 121.3 670.55C143.08 670.55 139.12 670.35 160.9 670.35C182.3 670.35 178.41 668.9 199.8 668.9L199.8 671.9C178.41 671.9 182.3 672.65 160.9 672.65C139.12 672.65 143.08 673.05 121.3 673.05C99.74 673.05 103.66 661.9 82.1 661.9Z" fill="#a06ec2"/>
<path d="M82.1 673.5C103.66 673.5 99.74 657.65 121.3 657.65C143.08 657.65 139.12 663.1 160.9 663.1C182.3 663.1 178.41 664.5 199.8 664.5L199.8 667.5C178.41 667.5 182.3 666.1 160.9 666.1C139.12 666.1 143.08 661.15 121.3 661.15C99.74 661.15 103.66 674.5 82.1 674.5Z" fill="#3db591"/>
<path d="M82.1 561L82.1 709L199.8 709L199.8 561" stroke="#000" stroke-width="1.2" fill="none"/>
<path d="M121.3 565.6L121.3 709M160.9 565.6L160.9 709" stroke="#111" stroke-width="0.7" fill="none" stroke-dasharray="4.2 2.6" opacity="0.4"/>
<text x="137.4" y="564.8" font-size="7.7" text-anchor="middle" fill="#111">Treatment naive</text>
<text x="78.8" y="583" font-size="5.9" text-anchor="end" fill="#a4508b">Neutrophil/eosinophil</text>
<text x="78.8" y="598.2" font-size="5.9" text-anchor="end" fill="#fbd98b">DC-LAMP<tspan dy="-2" font-size="4">−</tspan><tspan dy="2"> DC</tspan></text>
<text x="78.8" y="610.7" font-size="5.9" text-anchor="end" fill="#c8302a">CD8<tspan dy="-2" font-size="4">+</tspan><tspan dy="2"> T cell</tspan></text>
<text x="78.8" y="623.5" font-size="5.9" text-anchor="end" fill="#6fa4dd">Th0</text>
<text x="78.8" y="632.7" font-size="5.9" text-anchor="end" fill="#5a3a3e">CD163<tspan dy="-2" font-size="4">+</tspan><tspan dy="2"> Mono/MΦ</tspan></text>
<text x="78.8" y="641.7" font-size="5.9" text-anchor="end" fill="#b8e1b2">CD163<tspan dy="-2" font-size="4">−</tspan><tspan dy="2"> Mono/MΦ</tspan></text>
<text x="78.8" y="649.7" font-size="5.9" text-anchor="end" fill="#f49b42">CD20<tspan dy="-2" font-size="4">+</tspan><tspan dy="2"> B cell</tspan></text>
<text x="78.8" y="656.3" font-size="5.9" text-anchor="end" fill="#33b9e9">Mast cell</text>
<text x="78.8" y="662" font-size="5.9" text-anchor="end" fill="#a06ec2">Treg</text>
<text x="78.8" y="668.5" font-size="5.9" text-anchor="end" fill="#9b8242">Plasmablast</text>
<text x="78.8" y="673.7" font-size="5.9" text-anchor="end" fill="#1f3566">Plasma cell</text>
<text x="78.8" y="678.7" font-size="5.9" text-anchor="end" fill="#3db591">Th2</text>
<text x="78.8" y="683.7" font-size="5.9" text-anchor="end" fill="#3a5a88">Th1</text>
<text x="78.8" y="688.7" font-size="5.9" text-anchor="end" fill="#8a8e9c">DC-LAMP<tspan dy="-2" font-size="4">+</tspan><tspan dy="2"> DC</tspan></text>
<text x="78.8" y="694.7" font-size="5.9" text-anchor="end" fill="#7a8496">Th17</text>
<text x="82.1" y="716.7" font-size="5.9" text-anchor="middle" fill="#111">Intratumor</text>
<text x="121.3" y="716.7" font-size="5.9" text-anchor="middle" fill="#111">Border</text>
<text x="160.9" y="716.7" font-size="5.9" text-anchor="middle" fill="#111">Spanning</text>
<text x="199.8" y="716.7" font-size="5.9" text-anchor="middle" fill="#111">Distal</text>
<circle cx="82.9" cy="731.9" r="12.4" fill="#f7941e" stroke="#3a2a1a" stroke-width="0.8"/>
<circle cx="121.5" cy="731.9" r="12.4" fill="#a23fa6" stroke="#3a2a1a" stroke-width="0.8"/>
<circle cx="159.8" cy="731.9" r="12.4" fill="#a23fa6" stroke="#3a2a1a" stroke-width="0.8"/>
<path d="M159.8 731.9L159.8 719.5A12.4 12.4 0 0 1 165.08 720.68Z" fill="#3db878" stroke="#2a2a2a" stroke-width="0.6"/>
<circle cx="200.2" cy="731.9" r="12.4" fill="#a23fa6" stroke="#3a2a1a" stroke-width="0.8"/>
<path d="M200.2 731.9L200.2 719.5A12.4 12.4 0 0 1 209.24 740.39Z" fill="#3db878" stroke="#2a2a2a" stroke-width="0.6"/>
<rect x="45.7" y="722.4" width="7.2" height="3.8" fill="#f7941e" stroke="#333" stroke-width="0.4"/>
<text x="54.9" y="726.4" font-size="6" fill="#111">T</text>
<rect x="45.7" y="728.25" width="7.2" height="3.8" fill="#a23fa6" stroke="#333" stroke-width="0.4"/>
<text x="54.9" y="732.25" font-size="6" fill="#111">TAS</text>
<rect x="45.7" y="734.1" width="7.2" height="3.8" fill="#3db878" stroke="#333" stroke-width="0.4"/>
<text x="54.9" y="738.1" font-size="6" fill="#111">AN</text>
<path d="M332.1 565.6L332.1 709M370.2 565.6L370.2 709" stroke="#000" stroke-width="0.8" fill="none" stroke-dasharray="4.2 2.6"/>
<path d="M293.6 698.55C314.78 698.55 310.93 695.55 332.1 695.55C353.06 695.55 349.25 696.55 370.2 696.55C391.43 696.55 387.57 691.55 408.8 691.55L408.8 692.45C387.57 692.45 391.43 697.45 370.2 697.45C349.25 697.45 353.06 696.45 332.1 696.45C310.93 696.45 314.78 699.45 293.6 699.45Z" fill="#2b4a80"/>
<path d="M293.6 693.55C314.78 693.55 310.93 687.55 332.1 687.55C353.06 687.55 349.25 691.55 370.2 691.55C391.43 691.55 387.57 686.55 408.8 686.55L408.8 687.45C387.57 687.45 391.43 692.45 370.2 692.45C349.25 692.45 353.06 688.45 332.1 688.45C310.93 688.45 314.78 694.45 293.6 694.45Z" fill="#a9aec6"/>
<path d="M293.6 688.55C314.78 688.55 310.93 689.55 332.1 689.55C353.06 689.55 349.25 687.55 370.2 687.55C391.43 687.55 387.57 681.55 408.8 681.55L408.8 682.45C387.57 682.45 391.43 688.45 370.2 688.45C349.25 688.45 353.06 690.45 332.1 690.45C310.93 690.45 314.78 689.45 293.6 689.45Z" fill="#bcc8dc"/>
<path d="M293.6 684.12C314.78 684.12 310.93 674.52 332.1 674.52C353.06 674.52 349.25 682.52 370.2 682.52C391.43 682.52 387.57 676.52 408.8 676.52L408.8 677.48C387.57 677.48 391.43 683.48 370.2 683.48C349.25 683.48 353.06 675.48 332.1 675.48C310.93 675.48 314.78 685.08 293.6 685.08Z" fill="#5f84b4"/>
<path d="M293.6 679.5C314.78 679.5 310.93 674 332.1 674C353.06 674 349.25 670 370.2 670C391.43 670 387.57 665.5 408.8 665.5L408.8 666.5C387.57 666.5 391.43 671 370.2 671C349.25 671 353.06 675 332.1 675C310.93 675 314.78 680.5 293.6 680.5Z" fill="#a06ec2"/>
<path d="M293.6 675C314.78 675 310.93 680.5 332.1 680.5C353.06 680.5 349.25 677 370.2 677C391.43 677 387.57 672 408.8 672L408.8 673C387.57 673 391.43 678 370.2 678C349.25 678 353.06 681.5 332.1 681.5C310.93 681.5 314.78 676 293.6 676Z" fill="#9b8242"/>
<path d="M293.6 667.5C314.78 667.5 310.93 667 332.1 667C353.06 667 349.25 657.75 370.2 657.75C391.43 657.75 387.57 660.9 408.8 660.9L408.8 662.1C387.57 662.1 391.43 659.25 370.2 659.25C349.25 659.25 353.06 668 332.1 668C310.93 668 314.78 668.5 293.6 668.5Z" fill="#b8e1b2"/>
<path d="M293.6 602.2C314.78 602.2 310.93 571.9 332.1 571.9C353.06 571.9 349.25 572 370.2 572C391.43 572 387.57 605.7 408.8 605.7L408.8 616.9C387.57 616.9 391.43 586 370.2 586C349.25 586 353.06 588.3 332.1 588.3C310.93 588.3 314.78 614.2 293.6 614.2Z" fill="#fbd98b"/>
<path d="M293.6 587.45C314.78 587.45 310.93 603.85 332.1 603.85C353.06 603.85 349.25 596.35 370.2 596.35C391.43 596.35 387.57 577.2 408.8 577.2L408.8 589.2C387.57 589.2 391.43 608.85 370.2 608.85C349.25 608.85 353.06 615.15 332.1 615.15C310.93 615.15 314.78 602.15 293.6 602.15Z" fill="#874a4f"/>
<path d="M293.6 569.35C314.78 569.35 310.93 616.9 332.1 616.9C353.06 616.9 349.25 616.1 370.2 616.1C391.43 616.1 387.57 630.7 408.8 630.7L408.8 635.9C387.57 635.9 391.43 625.1 370.2 625.1C349.25 625.1 353.06 625.5 332.1 625.5C310.93 625.5 314.78 584.05 293.6 584.05Z" fill="#a4508b"/>
<path d="M293.6 619.45C314.78 619.45 310.93 593.55 332.1 593.55C353.06 593.55 349.25 634.2 370.2 634.2C391.43 634.2 387.57 594.4 408.8 594.4L408.8 605.6C387.57 605.6 391.43 644.6 370.2 644.6C349.25 644.6 353.06 604.85 332.1 604.85C310.93 604.85 314.78 627.95 293.6 627.95Z" fill="#e8412f"/>
<path d="M293.6 633.3C314.78 633.3 310.93 631.6 332.1 631.6C353.06 631.6 349.25 628.6 370.2 628.6C391.43 628.6 387.57 622.85 408.8 622.85L408.8 628.35C387.57 628.35 391.43 636.4 370.2 636.4C349.25 636.4 353.06 639.4 332.1 639.4C310.93 639.4 314.78 640.3 293.6 640.3Z" fill="#6fa4dd"/>
<path d="M293.6 645C314.78 645 310.93 643.7 332.1 643.7C353.06 643.7 349.25 647.2 370.2 647.2C391.43 647.2 387.57 641.15 408.8 641.15L408.8 645.45C387.57 645.45 391.43 652.4 370.2 652.4C349.25 652.4 353.06 648.9 332.1 648.9C310.93 648.9 314.78 649.8 293.6 649.8Z" fill="#33b9e9"/>
<path d="M293.6 653.7C314.78 653.7 310.93 654.55 332.1 654.55C353.06 654.55 349.25 669.9 370.2 669.9C391.43 669.9 387.57 655.2 408.8 655.2L408.8 657.2C387.57 657.2 391.43 671.1 370.2 671.1C349.25 671.1 353.06 657.45 332.1 657.45C310.93 657.45 314.78 656.3 293.6 656.3Z" fill="#f49b42"/>
<path d="M293.6 661C314.78 661 310.93 661 332.1 661C353.06 661 349.25 661.6 370.2 661.6C391.43 661.6 387.57 649.5 408.8 649.5L408.8 652.5C387.57 652.5 391.43 662.8 370.2 662.8C349.25 662.8 353.06 663 332.1 663C310.93 663 314.78 663 293.6 663Z" fill="#3db591"/>
<path d="M293.6 561L293.6 709L408.8 709L408.8 561" stroke="#000" stroke-width="1.2" fill="none"/>
<path d="M332.1 565.6L332.1 709M370.2 565.6L370.2 709" stroke="#111" stroke-width="0.7" fill="none" stroke-dasharray="4.2 2.6" opacity="0.4"/>
<text x="349" y="564.8" font-size="7.7" text-anchor="middle" fill="#111">Presurgically treated</text>
<text x="290" y="579.9" font-size="5.9" text-anchor="end" fill="#a4508b">Neutrophil/eosinophil</text>
<text x="290" y="596.3" font-size="5.9" text-anchor="end" fill="#5a3a3e">CD163<tspan dy="-2" font-size="4">+</tspan><tspan dy="2"> Mono/MΦ</tspan></text>
<text x="290" y="612.3" font-size="5.9" text-anchor="end" fill="#fbd98b">DC-LAMP<tspan dy="-2" font-size="4">−</tspan><tspan dy="2"> DC</tspan></text>
<text x="290" y="627.1" font-size="5.9" text-anchor="end" fill="#c8302a">CD8<tspan dy="-2" font-size="4">+</tspan><tspan dy="2"> T cell</tspan></text>
<text x="290" y="639.7" font-size="5.9" text-anchor="end" fill="#6fa4dd">Th0</text>
<text x="290" y="649.9" font-size="5.9" text-anchor="end" fill="#33b9e9">Mast cell</text>
<text x="290" y="657.8" font-size="5.9" text-anchor="end" fill="#f49b42">CD20<tspan dy="-2" font-size="4">+</tspan><tspan dy="2"> B cell</tspan></text>
<text x="290" y="663.1" font-size="5.9" text-anchor="end" fill="#3db591">Th2</text>
<text x="290" y="670" font-size="5.9" text-anchor="end" fill="#b8e1b2">CD163<tspan dy="-2" font-size="4">−</tspan><tspan dy="2"> Mono/MΦ</tspan></text>
<text x="290" y="677.1" font-size="5.9" text-anchor="end" fill="#9b8242">Plasmablast</text>
<text x="290" y="682.8" font-size="5.9" text-anchor="end" fill="#a06ec2">Treg</text>
<text x="290" y="687.9" font-size="5.9" text-anchor="end" fill="#3a5a88">Th1</text>
<text x="290" y="692.3" font-size="5.9" text-anchor="end" fill="#7a8496">Th17</text>
<text x="290" y="696.9" font-size="5.9" text-anchor="end" fill="#8a8e9c">DC-LAMP<tspan dy="-2" font-size="4">+</tspan><tspan dy="2"> DC</tspan></text>
<text x="290" y="701.5" font-size="5.9" text-anchor="end" fill="#1f3566">Plasma cell</text>
<text x="293.6" y="716.7" font-size="5.9" text-anchor="middle" fill="#111">Intratumor</text>
<text x="332.1" y="716.7" font-size="5.9" text-anchor="middle" fill="#111">Border</text>
<text x="370.2" y="716.7" font-size="5.9" text-anchor="middle" fill="#111">Spanning</text>
<text x="408.8" y="716.7" font-size="5.9" text-anchor="middle" fill="#111">Distal</text>
<circle cx="295.2" cy="731.9" r="12.4" fill="#f7941e" stroke="#3a2a1a" stroke-width="0.8"/>
<circle cx="333.6" cy="731.9" r="12.4" fill="#a23fa6" stroke="#3a2a1a" stroke-width="0.8"/>
<circle cx="371.3" cy="731.9" r="12.4" fill="#a23fa6" stroke="#3a2a1a" stroke-width="0.8"/>
<circle cx="408.6" cy="731.9" r="12.4" fill="#a23fa6" stroke="#3a2a1a" stroke-width="0.8"/>
<path d="M408.6 731.9L408.6 719.5A12.4 12.4 0 0 1 419.47 725.93Z" fill="#3db878" stroke="#2a2a2a" stroke-width="0.6"/>
<rect x="256.6" y="722.4" width="7.2" height="3.8" fill="#f7941e" stroke="#333" stroke-width="0.4"/>
<text x="265.8" y="726.4" font-size="6" fill="#111">T</text>
<rect x="256.6" y="728.25" width="7.2" height="3.8" fill="#a23fa6" stroke="#333" stroke-width="0.4"/>
<text x="265.8" y="732.25" font-size="6" fill="#111">TAS</text>
<rect x="256.6" y="734.1" width="7.2" height="3.8" fill="#3db878" stroke="#333" stroke-width="0.4"/>
<text x="265.8" y="738.1" font-size="6" fill="#111">AN</text>
</g>
</svg>
</body></html>
